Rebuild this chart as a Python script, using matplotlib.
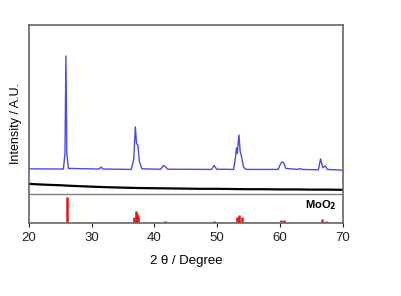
import matplotlib.pyplot as plt

plt.rcParams['font.family'] = ['Liberation Sans', 'DejaVu Sans']

# blue XRD pattern (sample)
blue_x = [20.0, 25.5, 25.75, 25.9, 26.05, 26.3, 31.2, 31.5, 31.8, 36.3, 36.7, 36.95,
          37.15, 37.35, 37.6, 38.0, 41.0, 41.4, 41.7, 42.1, 49.1, 49.5, 49.9, 52.6,
          52.9, 53.05, 53.2, 53.45, 53.65, 53.9, 54.2, 54.6, 59.7, 60.1, 60.35, 60.6,
          60.9, 62.9, 63.2, 63.5, 66.1, 66.45, 66.8, 67.2, 67.5, 70.0]
blue_y = [27.3, 27.2, 35.0, 84.3, 35.0, 27.5, 27.2, 28.2, 27.2, 27.0, 32.0, 48.5,
          40.0, 39.4, 31.0, 27.3, 27.1, 28.9, 28.5, 27.1, 27.0, 29.0, 27.1, 27.0,
          33.0, 37.9, 35.0, 44.4, 36.0, 33.0, 28.0, 27.0, 27.0, 30.0, 30.8, 30.2,
          27.5, 27.0, 27.5, 27.0, 26.8, 32.3, 27.8, 28.8, 27.0, 26.6]

# black pattern (amorphous background)
black_x = [20, 22.5, 25, 27.5, 30, 32.5, 35, 37.5, 40, 42.5, 45, 47.5, 50,
           52.5, 55, 57.5, 60, 62.5, 65, 67.5, 70]
black_y = [19.7, 19.3, 19.0, 18.6, 18.3, 18.0, 17.8, 17.6, 17.5, 17.4, 17.3, 17.2, 17.2,
           17.1, 17.0, 17.0, 16.9, 16.9, 16.8, 16.8, 16.7]

# MoO2 reference sticks
ref_x = [26.0, 36.8, 37.0, 37.2, 37.4, 41.7, 49.5, 53.2, 53.5, 53.9, 60.1, 60.6, 66.6, 67.3]
ref_h = [13.3, 3.0, 6.0, 4.5, 3.5, 1.0, 1.2, 3.0, 4.2, 3.0, 1.3, 1.5, 2.0, 1.2]

fig = plt.figure(figsize=(4.01, 2.96), dpi=100)
ax = fig.add_axes([0.072, 0.247, 0.783, 0.669])

ax.plot(blue_x, blue_y, color='#4b4be6', lw=1.0)
ax.plot(black_x, black_y, color='black', lw=1.6)
ax.axhline(14.6, color='#808080', lw=1.0)
ax.vlines(ref_x, 0, ref_h, color='#ee1111', lw=1.8)

ax.text(66.5, 7.5, 'MoO$_\\mathbf{2}$', fontsize=8, fontweight='bold', ha='center')

ax.set_xlim(20, 70)
ax.set_ylim(0, 100)
ax.set_xticks([20, 30, 40, 50, 60, 70])
ax.set_yticks([])
ax.tick_params(axis='x', direction='out', length=3, labelsize=9.5, colors='#222222')
for s in ax.spines.values():
    s.set_color('#666666')
    s.set_linewidth(1.2)

ax.set_xlabel('2 \u03b8 / Degree', fontsize=9.5, labelpad=8)
ax.set_ylabel('Intensity / A.U.', fontsize=9, labelpad=5)

fig.savefig('out.png', dpi=100)
